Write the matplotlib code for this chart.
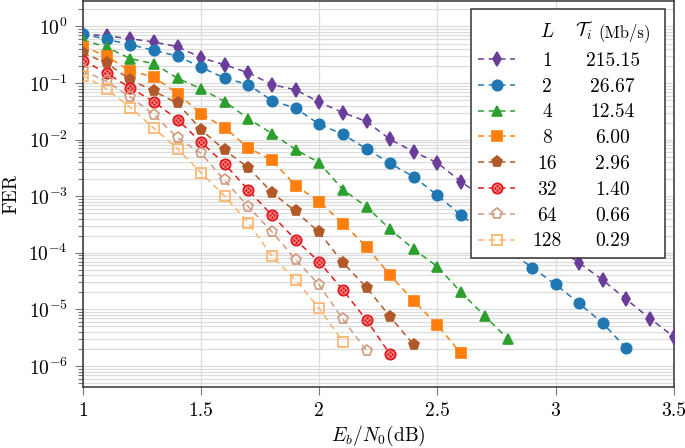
import numpy as np
import matplotlib
matplotlib.use('Agg')
import matplotlib.pyplot as plt
from matplotlib.legend_handler import HandlerTuple
from matplotlib.transforms import IdentityTransform
import matplotlib.ticker as mt

plt.rcParams['font.family'] = 'serif'
plt.rcParams['font.serif'] = ['cmr10']
plt.rcParams['mathtext.fontset'] = 'cm'
plt.rcParams['axes.formatter.use_mathtext'] = True
plt.rcParams['font.size'] = 14

# ---------------- data ----------------
x_L1 = [1.0, 1.1, 1.2, 1.3, 1.4, 1.5, 1.6, 1.7, 1.8, 1.9, 2.0, 2.1, 2.2, 2.3, 2.4, 2.5, 2.6,
        3.1, 3.2, 3.3, 3.4, 3.5]
fer_L1 = [0.74, 0.68, 0.61, 0.53, 0.44, 0.28, 0.21, 0.152, 0.094, 0.076, 0.046, 0.030, 0.021,
          0.0101, 0.0061, 0.0039, 0.0018, 6.65e-5, 3.3e-5, 1.5e-5, 6.9e-6, 3.3e-6]

x_L2 = [1.0, 1.1, 1.2, 1.3, 1.4, 1.5, 1.6, 1.7, 1.8, 1.9, 2.0, 2.1, 2.2, 2.3, 2.4, 2.5, 2.6,
        2.9, 3.0, 3.1, 3.2, 3.3]
fer_L2 = [0.74, 0.59, 0.48, 0.377, 0.30, 0.19, 0.122, 0.094, 0.049, 0.036, 0.0187, 0.0124,
          0.0069, 0.0038, 0.0022, 0.00104, 4.6e-4, 5.5e-5, 2.77e-5, 1.28e-5, 5.7e-6, 2.05e-6]

x_L4 = [1.0, 1.1, 1.2, 1.3, 1.4, 1.5, 1.6, 1.7, 1.8, 1.9, 2.0, 2.1, 2.2, 2.3, 2.4, 2.5, 2.6,
        2.7, 2.8]
fer_L4 = [0.58, 0.43, 0.27, 0.22, 0.122, 0.079, 0.047, 0.0235, 0.0128, 0.0067, 0.0039, 0.00131,
          6.5e-4, 2.6e-4, 1.16e-4, 5.7e-5, 2.0e-5, 7.7e-6, 2.96e-6]

x_L8 = [1.0, 1.1, 1.2, 1.3, 1.4, 1.5, 1.6, 1.7, 1.8, 1.9, 2.0, 2.1, 2.2, 2.3, 2.4, 2.5, 2.6]
fer_L8 = [0.44, 0.30, 0.163, 0.128, 0.065, 0.0288, 0.0161, 0.0072, 0.0043, 0.00154, 8.0e-4,
          3.3e-4, 1.28e-4, 4.0e-5, 1.42e-5, 5.3e-6, 1.67e-6]

x_L16 = [1.0, 1.1, 1.2, 1.3, 1.4, 1.5, 1.6, 1.7, 1.8, 1.9, 2.0, 2.1, 2.2, 2.3, 2.4]
fer_L16 = [0.34, 0.225, 0.115, 0.072, 0.044, 0.015, 0.0065, 0.0032, 0.00116, 5.4e-4, 2.3e-4,
           6.7e-5, 2.44e-5, 7.4e-6, 2.35e-6]

x_L32 = [1.0, 1.1, 1.2, 1.3, 1.4, 1.5, 1.6, 1.7, 1.8, 1.9, 2.0, 2.1, 2.2, 2.3]
fer_L32 = [0.25, 0.15, 0.082, 0.047, 0.0226, 0.009, 0.0037, 0.00128, 4.6e-4, 1.7e-4, 6.9e-5,
           2.2e-5, 6.5e-6, 1.6e-6]

x_L64 = [1.0, 1.1, 1.2, 1.3, 1.4, 1.5, 1.6, 1.7, 1.8, 1.9, 2.0, 2.1, 2.2]
fer_L64 = [0.167, 0.107, 0.057, 0.0276, 0.0108, 0.0057, 0.0019, 6.5e-4, 2.35e-4, 7.6e-5,
           2.7e-5, 6.7e-6, 1.87e-6]

x_L128 = [1.0, 1.1, 1.2, 1.3, 1.4, 1.5, 1.6, 1.7, 1.8, 1.9, 2.0, 2.1]
fer_L128 = [0.136, 0.079, 0.037, 0.016, 0.0069, 0.0026, 0.001, 3.4e-4, 8.7e-5, 3.3e-5,
            1.04e-5, 2.7e-6]

L_values = ['1', '2', '4', '8', '16', '32', '64', '128']
Ti_values = ['215.15', '26.67', '12.54', '6.00', '2.96', '1.40', '0.66', '0.29']

x_ticks = [1, 1.5, 2, 2.5, 3, 3.5]
x_tick_labels = ['1', '1.5', '2', '2.5', '3', '3.5']
y_ticks = [1e0, 1e-1, 1e-2, 1e-3, 1e-4, 1e-5, 1e-6]

# ---------------- styles ----------------
styles = [
    dict(color='#6a3d9a', marker='d', ms=7.5, mfc='#6a3d9a'),
    dict(color='#1f77b4', marker='o', ms=7.5, mfc='#1f77b4'),
    dict(color='#2ca02c', marker='^', ms=7.5, mfc='#2ca02c'),
    dict(color='#ff7f0e', marker='s', ms=7.0, mfc='#ff7f0e'),
    dict(color='#b15928', marker='p', ms=8.0, mfc='#b15928'),
    dict(color='#e31a1c', marker='o', ms=7.5, mfc='#e31a1c'),
    dict(color='#d09b7e', marker='p', ms=8.0, mfc='none'),
    dict(color='#ffb266', marker='s', ms=7.5, mfc='none'),
]
xs = [x_L1, x_L2, x_L4, x_L8, x_L16, x_L32, x_L64, x_L128]
ys = [fer_L1, fer_L2, fer_L4, fer_L8, fer_L16, fer_L32, fer_L64, fer_L128]

W, H = 685, 448
fig = plt.figure(figsize=(W / 100, H / 100), dpi=100)
ax = fig.add_axes([83 / W, 1 - 387 / H, 590.7 / W, 386 / H])

handles = []
for i, (x, y, st) in enumerate(zip(xs, ys, styles)):
    ln, = ax.plot(x, y, linestyle=(0, (4, 3)), lw=1.1, color=st['color'],
                  marker=st['marker'], markersize=st['ms'], markerfacecolor=st['mfc'],
                  markeredgecolor=st['color'], markeredgewidth=1.2, zorder=3 + i * 0.1)
    if i == 5:
        ov, = ax.plot(x, y, linestyle='none', marker=r'$\otimes$', markersize=5.5,
                      color='#ffb3b3', markeredgewidth=0.2, zorder=3.55)
        handles.append((ln, ov))
    else:
        handles.append(ln)

ax.set_yscale('log')
ax.set_xlim(1, 3.5)
ax.set_ylim(4.26e-7, 2.82)
ax.set_xticks(x_ticks)
ax.set_xticklabels(x_tick_labels)
ax.set_yticks(y_ticks)
ax.yaxis.set_major_formatter(mt.FuncFormatter(lambda v, p: r'$10^{%d}$' % int(round(np.log10(v)))))
ax.yaxis.set_minor_locator(mt.LogLocator(base=10, subs=np.arange(2, 10), numticks=20))
ax.yaxis.set_minor_formatter(mt.NullFormatter())

ax.set_axisbelow(True)
ax.grid(True, which='major', color='#dcdcdc', lw=0.9)
ax.grid(True, which='minor', axis='y', color='#dcdcdc', lw=0.9)
ax.tick_params(which='major', direction='out', length=6, width=0.8, color='#777777',
               pad=5, labelsize=14)
ax.tick_params(which='minor', direction='out', length=3.5, width=0.8, color='#777777')
for s in ax.spines.values():
    s.set_color('#333333')
    s.set_linewidth(1.1)

ax.set_xlabel(r'$E_b/N_0$(dB)', fontsize=14, labelpad=3)
ax.set_ylabel('FER', fontsize=14, labelpad=6)

# ---------------- legend (table style) ----------------
FS = 14 * 100 / 72.0
# layout targets (pixels from the top-left corner)
T_left, T_top, T_bottom = 471.0, 9.0, 258.0
T_row1, T_pitch, T_x0, T_hend = 66.0, 25.8, 532.7, 515.0

p = dict(hs=4.28, tfs=20.0, bp=0.4, ls=0.4, htp=(T_x0 - T_hend) / FS, hl=1.8)


def make_legend(p):
    lab = r'$\mathrm{128}\hspace{%.3f}\mathrm{0}$' % p['hs']
    lg = ax.legend(handles, [lab] * 8, loc='upper right', title=r'$\mathrm{0}$',
                   title_fontsize=p['tfs'], bbox_to_anchor=(0.9848, 0.979),
                   borderaxespad=0, frameon=True, fancybox=False, edgecolor='#333333',
                   framealpha=1, borderpad=p['bp'], handlelength=p['hl'],
                   handletextpad=p['htp'], labelspacing=p['ls'], fontsize=14,
                   handler_map={tuple: HandlerTuple(ndivide=1, pad=0)})
    lg.get_frame().set_linewidth(1.1)
    for t in lg.get_texts():
        t.set_color('none')
    lg.get_title().set_color('none')
    return lg


for it in range(7):
    leg = make_legend(p)
    fig.canvas.draw()
    fb = leg.get_frame().get_window_extent()
    base = [t.get_transform().transform((0, 0)) for t in leg.get_texts()]
    top_i = H - fb.y1
    bot_i = H - fb.y0
    b0 = H - base[0][1]
    b7 = H - base[7][1]
    x0 = base[0][0]
    pitch = (b7 - b0) / 7.0
    p['ls'] = max(0.0, p['ls'] + (T_pitch - pitch) / FS)
    p['bp'] = max(0.05, p['bp'] + ((T_bottom - T_row1 - 7 * T_pitch) - (bot_i - b7)) / FS)
    p['tfs'] = max(4.0, p['tfs'] + ((T_row1 - T_top) - (b0 - top_i)) / 1.3)
    p['hs'] = p['hs'] + (x0 - T_x0) / 17.5
    p['hl'] = max(0.8, (T_hend - T_left) / FS - p['bp'])

leg = make_legend(p)
fig.canvas.draw()
ident = IdentityTransform()
texts = leg.get_texts()
base = [t.get_transform().transform((0, 0)) for t in texts]
bx0, by0 = base[0]
hy = by0 + 29.0
fig.text(bx0 + 14.6, hy, r'$L$', transform=ident, ha='center', va='baseline',
         fontsize=14, zorder=10)
fig.text(bx0 + 42.3, hy, r'$\mathcal{T}_i$', transform=ident, ha='left',
         va='baseline', fontsize=14, zorder=10)
fig.text(bx0 + 65.5, hy, '(Mb/s)', transform=ident, ha='left', va='baseline',
         fontsize=12, zorder=10)
for i, (bx, by) in enumerate(base):
    fig.text(bx + 14.6, by, L_values[i], transform=ident, ha='center',
             va='baseline', fontsize=14, zorder=10)
    fig.text(bx + 80.0, by, Ti_values[i], transform=ident, ha='center',
             va='baseline', fontsize=14, zorder=10)
for t in texts:
    t.set_visible(False)
leg.get_title().set_visible(False)

fig.savefig('out.png', dpi=100)
